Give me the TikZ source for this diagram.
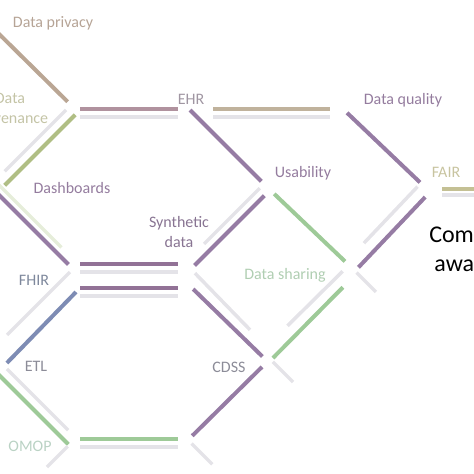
\documentclass[tikz,border=0pt]{standalone}
\usepackage{fontspec}
\setmainfont{Carlito}
\definecolor{HxPurple}{RGB}{150,124,164}
\definecolor{HxPlum}{RGB}{146,114,150}
\definecolor{HxMauve}{RGB}{176,146,158}
\definecolor{HxTan}{RGB}{186,166,148}
\definecolor{HxSand}{RGB}{192,178,156}
\definecolor{HxOlive}{RGB}{176,190,132}
\definecolor{HxGreen}{RGB}{158,202,152}
\definecolor{HxBlue}{RGB}{126,140,180}
\definecolor{HxKhaki}{RGB}{196,192,148}
\definecolor{HxGhost}{RGB}{228,227,232}
\definecolor{HxPaleGreen}{RGB}{230,237,218}
\definecolor{HxTxtTan}{RGB}{182,164,150}
\definecolor{HxTxtOlive}{RGB}{196,196,166}
\definecolor{HxTxtGray}{RGB}{160,150,162}
\definecolor{HxTxtPurple}{RGB}{148,124,158}
\definecolor{HxTxtDark}{RGB}{136,116,146}
\definecolor{HxTxtKhaki}{RGB}{200,196,160}
\definecolor{HxTxtBlue}{RGB}{126,136,156}
\definecolor{HxTxtSlate}{RGB}{140,140,152}
\definecolor{HxTxtGreen}{RGB}{176,206,178}
\definecolor{HxTxtMint}{RGB}{186,210,196}
\tikzset{
  hx/edge/.style={line width=4pt, draw=#1},
  hx/ghost/.style={line width=3.5pt, draw=HxGhost},
  hx/paleghost/.style={line width=3.5pt, draw=HxPaleGreen},
  hx/label/.style={
    font=\fontsize{16}{20}\selectfont,
    text=#1,
    align=center,
    inner sep=0pt,
    anchor=base
  },
  hx/big/.style={
    font=\fontsize{24}{29}\selectfont,
    text=black,
    align=center,
    inner sep=0pt,
    anchor=base
  }
}

\begin{document}
\begin{tikzpicture}[x=1pt,y=-1pt]
  \useasboundingbox (0,0) rectangle (474,474);
  \clip (0,0) rectangle (474,474);
  % lattice points
  \coordinate (q) at (-4,31);
  \coordinate (a) at (74,108);
  \coordinate (b) at (188,108);
  \coordinate (c) at (342,108);
  \coordinate (f) at (-5,187);
  \coordinate (d) at (267,187);
  \coordinate (e) at (428,190);
  \coordinate (r) at (500,190);
  \coordinate (p1) at (74,266);
  \coordinate (g1) at (188,266);
  \coordinate (p2) at (74,290);
  \coordinate (g2) at (188,290);
  \coordinate (h) at (353,269);
  \coordinate (n) at (0,366);
  \coordinate (k) at (267,362);
  \coordinate (m) at (74,440);
  \coordinate (l) at (188,440);
  \coordinate (s) at (395,311);
  \coordinate (t) at (310,399);
  \coordinate (u) at (230,482);
  \coordinate (w) at (30,484);
  % top row
  \draw[hx/edge=HxTan, shorten >=9pt] (q) -- (a);
  \draw[hx/ghost, shorten <=6pt, shorten >=10pt] ([shift={(0,9)}]a) -- ([shift={(0,9)}]b);
  \draw[hx/edge=HxMauve, shorten <=6pt, shorten >=10pt] ([shift={(0,1)}]a) -- ([shift={(0,1)}]b);
  \draw[hx/ghost, shorten <=25pt, shorten >=12pt] ([shift={(0,9)}]b) -- ([shift={(0,9)}]c);
  \draw[hx/edge=HxSand, shorten <=25pt, shorten >=12pt] ([shift={(0,1)}]b) -- ([shift={(0,1)}]c);
  \draw[hx/edge=HxPurple, shorten <=3pt, shorten >=8pt] (b) -- (d);
  \draw[hx/edge=HxPurple, shorten <=7pt, shorten >=11pt] (c) -- (e);
  \draw[hx/ghost, shorten <=14pt] ([shift={(0,5)}]e) -- ([shift={(0,5)}]r);
  \draw[hx/edge=HxKhaki, shorten <=14pt] ([shift={(0,-1)}]e) -- ([shift={(0,-1)}]r);
  % left side
  \draw[hx/ghost, shorten <=7pt, shorten >=18pt] ([shift={(-3,-3)}]a) -- ([shift={(-3,-3)}]f);
  \draw[hx/edge=HxOlive, shorten <=4pt, shorten >=8pt] ([shift={(4,4)}]a) -- ([shift={(4,4)}]f);
  \draw[hx/paleghost, shorten >=22pt] ([shift={(3,-3)}]f) -- ([shift={(3,-3)}]p1);
  \draw[hx/edge=HxPurple, shorten >=5pt] ([shift={(-2,2)}]f) -- ([shift={(-2,2)}]p1);
  \draw[hx/ghost, shorten >=27pt] ([shift={(-4,6)}]p1) -- ([shift={(-12,-12)}]n);
  \draw[hx/edge=HxBlue, shorten >=7pt] ([shift={(2,2)}]p2) -- ([shift={(2,2)}]n);
  \draw[hx/ghost, shorten <=7pt, shorten >=11pt] ([shift={(2,-2)}]n) -- ([shift={(2,-2)}]m);
  \draw[hx/edge=HxGreen, shorten >=1pt] ([shift={(-5,5)}]n) -- ([shift={(-5,5)}]m);
  \draw[hx/ghost, shorten <=9pt, shorten >=24pt] (m) -- (w);
  % middle rows
  \draw[hx/ghost, shorten <=6pt, shorten >=10pt] ([shift={(0,6)}]p1) -- ([shift={(0,6)}]g1);
  \draw[hx/edge=HxPlum, shorten <=6pt, shorten >=10pt] ([shift={(0,-2)}]p1) -- ([shift={(0,-2)}]g1);
  \draw[hx/ghost, shorten <=6pt, shorten >=10pt] ([shift={(0,6)}]p2) -- ([shift={(0,6)}]g2);
  \draw[hx/edge=HxPlum, shorten <=6pt, shorten >=10pt] ([shift={(0,-2)}]p2) -- ([shift={(0,-2)}]g2);
  \draw[hx/ghost, shorten <=6pt, shorten >=10pt] ([shift={(0,7)}]m) -- ([shift={(0,7)}]l);
  \draw[hx/edge=HxGreen, shorten <=6pt, shorten >=10pt] ([shift={(0,-1)}]m) -- ([shift={(0,-1)}]l);
  \draw[hx/ghost, shorten <=6pt, shorten >=27pt] ([shift={(-3,-3)}]d) -- ([shift={(-3,-3)}]g1);
  \draw[hx/edge=HxPurple, shorten <=8pt, shorten >=5pt] ([shift={(3,3)}]d) -- ([shift={(3,3)}]g1);
  \draw[hx/edge=HxGreen, shorten <=10pt, shorten >=11pt] (d) -- (h);
  \draw[hx/ghost, shorten <=5pt, shorten >=26pt] ([shift={(-7,-7)}]e) -- ([shift={(-7,-7)}]h);
  \draw[hx/edge=HxPurple, shorten <=7pt, shorten >=5pt] ([shift={(2,2)}]e) -- ([shift={(2,2)}]h);
  \draw[hx/ghost, shorten <=10pt, shorten >=10pt] (g1) -- ([shift={(-10,-25)}]k);
  \draw[hx/edge=HxPurple, shorten <=3pt, shorten >=5pt] ([shift={(3,-3)}]g2) -- ([shift={(-1,-2)}]k);
  \draw[hx/ghost, shorten <=9pt, shorten >=40pt] ([shift={(-4,-4)}]h) -- ([shift={(-8,-8)}]k);
  \draw[hx/edge=HxGreen, shorten <=20pt, shorten >=7pt] ([shift={(4,4)}]h) -- ([shift={(1,1)}]k);
  \draw[hx/ghost, shorten <=5pt, shorten >=27pt] (h) -- (s);
  \draw[hx/edge=HxPurple, shorten <=7pt, shorten >=6pt] (k) -- (l);
  \draw[hx/ghost, shorten <=4pt, shorten >=24pt] ([shift={(3,-3)}]k) -- (t);
  \draw[hx/ghost, shorten <=5pt, shorten >=25pt] (l) -- (u);
  % labels
  \node[hx/label=HxTxtTan] (privacy) at (53,27) {Data privacy};
  \node[hx/label=HxTxtOlive] (provenance) at (10,123) {Data\\provenance};
  \node[hx/label=HxTxtGray] (ehr) at (191,104) {EHR};
  \node[hx/label=HxTxtPurple] (quality) at (403,104) {Data quality};
  \node[hx/label=HxTxtPurple] (dashboards) at (72,193) {Dashboards};
  \node[hx/label=HxTxtPurple] (usability) at (303,177) {Usability};
  \node[hx/label=HxTxtKhaki] (fair) at (446,177) {FAIR};
  \node[hx/label=HxTxtDark] (synthetic) at (179,247) {Synthetic\\data};
  \node[hx/label=HxTxtBlue] (fhir) at (34,285) {FHIR};
  \node[hx/label=HxTxtGreen] (sharing) at (285,279) {Data sharing};
  \node[hx/label=HxTxtSlate] (etl) at (36,371) {ETL};
  \node[hx/label=HxTxtSlate] (cdss) at (229,372) {CDSS};
  \node[hx/label=HxTxtMint] (omop) at (30,451) {OMOP};
  \node[hx/big] (community) at (486,271) {Community\\awareness};
\end{tikzpicture}
\end{document}
